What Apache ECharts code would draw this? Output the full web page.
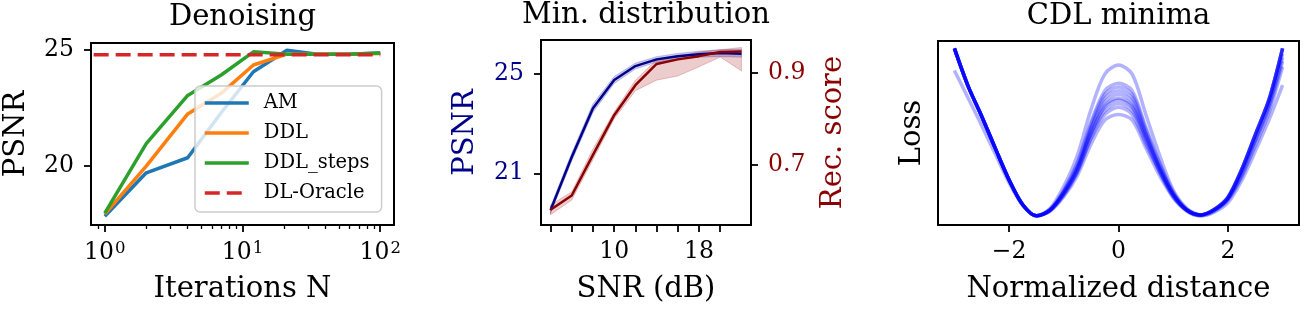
<!DOCTYPE html>
<html>
<head>
<meta charset="utf-8">
<script src="https://cdn.jsdelivr.net/npm/echarts@6.0.0/dist/echarts.min.js"></script>
<style>
  html, body { margin: 0; padding: 0; background: #fff; }
  #chart { width: 1305px; height: 309px; }
</style>
</head>
<body>
<div id="chart"></div>
<script>
// ---- Denoising ----
var iterN = [1, 2, 4, 7, 12, 21, 35, 59, 100];
var psnrAM = [17.84, 19.71, 20.36, 22.3, 24.07, 25.0, 24.83, 24.82, 24.88];
var psnrDDL = [17.93, 20.0, 22.25, 23.14, 24.36, 24.83, 24.82, 24.82, 24.86];
var psnrDDLsteps = [17.97, 20.97, 23.05, 23.93, 24.93, 24.83, 24.82, 24.83, 24.88];
var oracleN = [0.83, 100];
var oraclePsnr = [24.8, 24.8];

// ---- Min. distribution ----
var snrDb = [4, 6, 8, 10, 12, 14, 16, 18, 20, 22];
var minPsnr = [19.52, 21.66, 23.62, 24.76, 25.32, 25.59, 25.72, 25.8, 25.85, 25.82];
var minPsnrLow = [19.38, 21.5, 23.45, 24.62, 25.2, 25.48, 25.6, 25.68, 25.7, 25.68];
var minPsnrHigh = [19.66, 21.82, 23.8, 24.9, 25.44, 25.7, 25.83, 25.92, 25.98, 26.0];
var recScore = [0.603, 0.634, 0.722, 0.808, 0.873, 0.919, 0.929, 0.936, 0.945, 0.946];
var recScoreLow = [0.592, 0.624, 0.712, 0.8, 0.861, 0.884, 0.893, 0.913, 0.934, 0.904];
var recScoreHigh = [0.613, 0.642, 0.735, 0.815, 0.884, 0.928, 0.936, 0.945, 0.95, 0.955];

// ---- CDL minima ----
var distX = [-3, -2.75, -2.5, -2.25, -2, -1.75, -1.5, -1.25, -1, -0.75, -0.5, -0.25, 0,
             0.25, 0.5, 0.75, 1, 1.25, 1.5, 1.75, 2, 2.25, 2.5, 2.75, 3];
var lossCurves = [
  [0.96,0.755,0.59,0.415,0.245,0.11,0.05, 0.09,0.21,0.38,0.63,0.82,0.87,0.82,0.60,0.38,0.19,0.09, 0.055,0.08,0.145,0.29,0.47,0.66,0.93],
  [0.96,0.755,0.59,0.415,0.245,0.11,0.05, 0.085,0.19,0.34,0.56,0.73,0.77,0.73,0.53,0.34,0.18,0.085, 0.055,0.085,0.15,0.30,0.49,0.68,0.96],
  [0.96,0.755,0.59,0.415,0.245,0.11,0.05, 0.085,0.18,0.33,0.55,0.71,0.75,0.71,0.52,0.33,0.17,0.085, 0.055,0.08,0.14,0.28,0.46,0.65,0.91],
  [0.96,0.755,0.59,0.415,0.245,0.11,0.05, 0.08,0.18,0.32,0.53,0.69,0.73,0.69,0.50,0.32,0.17,0.08, 0.055,0.085,0.15,0.30,0.49,0.68,0.96],
  [0.96,0.755,0.59,0.415,0.245,0.11,0.05, 0.08,0.18,0.31,0.52,0.67,0.71,0.67,0.49,0.31,0.17,0.08, 0.055,0.08,0.14,0.27,0.45,0.63,0.89],
  [0.96,0.755,0.59,0.415,0.245,0.11,0.05, 0.08,0.17,0.31,0.50,0.65,0.69,0.65,0.48,0.31,0.16,0.08, 0.055,0.085,0.15,0.30,0.49,0.68,0.96],
  [0.96,0.755,0.59,0.415,0.245,0.11,0.05, 0.08,0.17,0.30,0.50,0.64,0.68,0.64,0.47,0.30,0.16,0.08, 0.055,0.085,0.15,0.30,0.49,0.68,0.96],
  [0.84,0.69,0.54,0.385,0.23,0.105,0.05, 0.08,0.17,0.29,0.48,0.62,0.66,0.62,0.46,0.29,0.16,0.08, 0.05,0.075,0.135,0.26,0.43,0.61,0.86],
  [0.96,0.755,0.59,0.415,0.245,0.11,0.05, 0.08,0.16,0.29,0.47,0.60,0.64,0.60,0.44,0.29,0.15,0.08, 0.055,0.085,0.15,0.30,0.49,0.68,0.96],
  [0.96,0.755,0.59,0.415,0.245,0.11,0.05, 0.075,0.155,0.27,0.44,0.57,0.60,0.57,0.42,0.27,0.15,0.075, 0.05,0.07,0.12,0.24,0.40,0.57,0.76]
];

var logMajor = [1, 10, 100];
var logMinor = [0.9, 2, 3, 4, 5, 6, 7, 8, 9, 20, 30, 40, 50, 60, 70, 80, 90];
var snrTicks = [4, 6, 8, 10, 12, 14, 16, 18, 20];
var snrLabels = [10, 18];

var serif = "DejaVu Serif";
var NAVY = "#00008b";
var DARKRED = "#8b0000";

function pairs(xs, ys) {
  return ys.map(function (v, i) { return [xs[i], v]; });
}

var tickFont = 23.5;
var nameFont = 29;

function frameAxisLine() {
  return { show: true, onZero: false, lineStyle: { color: "#000", width: 2 } };
}
function majorTick(values) {
  return { show: true, inside: false, length: 7, customValues: values, lineStyle: { color: "#000", width: 1.8 } };
}

// filled band between lo and hi, drawn as one polygon through the axis scales
function bandSeries(yIndex, xs, lo, hi, fill) {
  return {
    type: "custom", coordinateSystem: "cartesian2d", xAxisIndex: 2, yAxisIndex: yIndex,
    silent: true, clip: true,
    data: xs.map(function (x, i) { return [x, lo[i], hi[i]]; }),
    encode: { x: 0, y: [1, 2] },
    renderItem: function (params, api) {
      if (params.dataIndex !== 0) return null;
      var pts = [];
      for (var i = 0; i < xs.length; i++) pts.push(api.coord([xs[i], lo[i]]));
      for (var j = xs.length - 1; j >= 0; j--) pts.push(api.coord([xs[j], hi[j]]));
      return {
        type: "polygon",
        shape: { points: pts },
        style: { fill: fill, stroke: fill, lineWidth: 1 }
      };
    }
  };
}

var chart = echarts.init(document.getElementById("chart"), null, { renderer: "canvas" });

var series = [];
// left panel lines
var denoiseColors = ["#1f77b4", "#ff7f0e", "#2ca02c"];
[["AM", psnrAM], ["DDL", psnrDDL], ["DDL_steps", psnrDDLsteps]].forEach(function (s, i) {
  series.push({
    name: s[0], type: "line", xAxisIndex: 0, yAxisIndex: 0,
    data: pairs(iterN, s[1]), symbol: "none", color: denoiseColors[i],
    lineStyle: { width: 3.5, color: denoiseColors[i] }
  });
});
series.push({
  name: "DL-Oracle", type: "line", xAxisIndex: 0, yAxisIndex: 0,
  data: pairs(oracleN, oraclePsnr), symbol: "none", color: "#d62728",
  lineStyle: { width: 3.5, color: "#d62728", type: [15, 7] }
});

// middle panel: bands then lines
series.push(bandSeries(1, snrDb, minPsnrLow, minPsnrHigh, "rgba(0,0,160,0.2)"));
series.push(bandSeries(2, snrDb, recScoreLow, recScoreHigh, "rgba(160,0,0,0.2)"));
series.push({
  type: "line", xAxisIndex: 2, yAxisIndex: 1, symbol: "none",
  data: pairs(snrDb, minPsnr), lineStyle: { width: 2.5, color: NAVY }
});
series.push({
  type: "line", xAxisIndex: 2, yAxisIndex: 2, symbol: "none",
  data: pairs(snrDb, recScore), lineStyle: { width: 2.5, color: DARKRED }
});

// right panel curves
lossCurves.forEach(function (c) {
  series.push({
    type: "line", xAxisIndex: 3, yAxisIndex: 3, symbol: "none", smooth: 0.3,
    data: pairs(distX, c), lineStyle: { width: 3.5, color: "#0000ff", opacity: 0.3 }
  });
});

var option = {
  animation: false,
  backgroundColor: "#ffffff",
  textStyle: { fontFamily: serif },
  title: [
    { text: "Denoising", left: 242.5, top: 3, textAlign: "center", padding: 0,
      textStyle: { fontFamily: serif, fontSize: nameFont, fontWeight: "normal", color: "#000" } },
    { text: "Min. distribution", left: 646, top: 1, textAlign: "center", padding: 0,
      textStyle: { fontFamily: serif, fontSize: nameFont, fontWeight: "normal", color: "#000" } },
    { text: "CDL minima", left: 1118.5, top: 2, textAlign: "center", padding: 0,
      textStyle: { fontFamily: serif, fontSize: nameFont, fontWeight: "normal", color: "#000" } }
  ],
  legend: {
    data: ["AM", "DDL", "DDL_steps", "DL-Oracle"],
    orient: "vertical", left: 195, top: 86,
    padding: [6, 12, 8, 8], itemWidth: 44, itemHeight: 14, itemGap: 8,
    itemStyle: { opacity: 0 },
    lineStyle: { width: 3.5 },
    backgroundColor: "rgba(255,255,255,0.8)", borderColor: "#cccccc", borderWidth: 1.5, borderRadius: 5,
    textStyle: { fontFamily: serif, fontSize: 19.5, color: "#000", lineHeight: 22, padding: [0, 0, 0, 10] }
  },
  grid: [
    { left: 91, top: 43, width: 303, height: 183, show: true, borderColor: "#000", borderWidth: 2, backgroundColor: "transparent" },
    { left: 541, top: 40, width: 210, height: 185, show: true, borderColor: "#000", borderWidth: 2, backgroundColor: "transparent" },
    { left: 938, top: 41, width: 361, height: 184, show: true, borderColor: "#000", borderWidth: 2, backgroundColor: "transparent" }
  ],
  xAxis: [
    {
      gridIndex: 0, type: "log", logBase: 10, min: 0.794, max: 125.9, position: "bottom",
      axisLine: frameAxisLine(), axisTick: majorTick(logMajor), splitLine: { show: false },
      axisLabel: {
        customValues: logMajor, margin: 15, color: "#000",
        formatter: function (v) { return "{b|10}{sup|" + Math.round(Math.log10(v)) + "}"; },
        rich: {
          b: { fontFamily: serif, fontSize: tickFont, color: "#000" },
          sup: { fontFamily: serif, fontSize: 16.5, color: "#000", verticalAlign: "top", padding: [0, 0, 8, 1] }
        }
      },
      name: "Iterations N", nameLocation: "middle", nameGap: 50,
      nameTextStyle: { fontFamily: serif, fontSize: nameFont, color: "#000" }
    },
    {
      gridIndex: 0, type: "log", logBase: 10, min: 0.794, max: 125.9, position: "bottom",
      axisLine: { show: false, onZero: false }, splitLine: { show: false }, axisLabel: { show: false },
      axisTick: { show: true, inside: false, length: 4, customValues: logMinor, lineStyle: { color: "#000", width: 1.3 } }
    },
    {
      gridIndex: 1, type: "value", min: 3.1, max: 22.9, position: "bottom",
      axisLine: frameAxisLine(), axisTick: majorTick(snrTicks), splitLine: { show: false },
      axisLabel: { customValues: snrLabels, margin: 15, fontFamily: serif, fontSize: tickFont, color: "#000" },
      name: "SNR (dB)", nameLocation: "middle", nameGap: 50,
      nameTextStyle: { fontFamily: serif, fontSize: nameFont, color: "#000" }
    },
    {
      gridIndex: 2, type: "value", min: -3.3, max: 3.3, position: "bottom",
      axisLine: frameAxisLine(), axisTick: majorTick([-2, 0, 2]), splitLine: { show: false },
      axisLabel: {
        customValues: [-2, 0, 2], margin: 15, fontFamily: serif, fontSize: tickFont, color: "#000",
        formatter: function (v) { return String(v).replace("-", "\u2212"); }
      },
      name: "Normalized distance", nameLocation: "middle", nameGap: 50,
      nameTextStyle: { fontFamily: serif, fontSize: nameFont, color: "#000" }
    }
  ],
  yAxis: [
    {
      gridIndex: 0, type: "value", min: 17.46, max: 25.31, position: "left",
      axisLine: frameAxisLine(), axisTick: majorTick([20, 25]), splitLine: { show: false },
      axisLabel: { customValues: [20, 25], margin: 17, fontFamily: serif, fontSize: tickFont, color: "#000" },
      name: "PSNR", nameLocation: "middle", nameGap: 60,
      nameTextStyle: { fontFamily: serif, fontSize: nameFont, color: "#000" }
    },
    {
      gridIndex: 1, type: "value", min: 18.92, max: 26.37, position: "left",
      axisLine: frameAxisLine(), axisTick: majorTick([21, 25]), splitLine: { show: false },
      axisLabel: { customValues: [21, 25], margin: 17, fontFamily: serif, fontSize: tickFont, color: NAVY },
      name: "PSNR", nameLocation: "middle", nameGap: 61,
      nameTextStyle: { fontFamily: serif, fontSize: nameFont, color: NAVY }
    },
    {
      gridIndex: 1, type: "value", min: 0.570, max: 0.971, position: "right",
      axisLine: frameAxisLine(), axisTick: majorTick([0.7, 0.9]), splitLine: { show: false },
      axisLabel: { customValues: [0.7, 0.9], margin: 17, fontFamily: serif, fontSize: tickFont, color: DARKRED },
      name: "Rec. score", nameLocation: "middle", nameGap: 68,
      nameTextStyle: { fontFamily: serif, fontSize: nameFont, color: DARKRED }
    },
    {
      gridIndex: 2, type: "value", min: 0, max: 1, position: "left",
      axisLine: frameAxisLine(), axisTick: { show: false }, axisLabel: { show: false }, splitLine: { show: false },
      name: "Loss", nameLocation: "middle", nameGap: 11,
      nameTextStyle: { fontFamily: serif, fontSize: nameFont, color: "#000" }
    }
  ],
  series: series
};

chart.setOption(option);
window.addEventListener("resize", function () { chart.resize(); });
</script>
</body>
</html>
